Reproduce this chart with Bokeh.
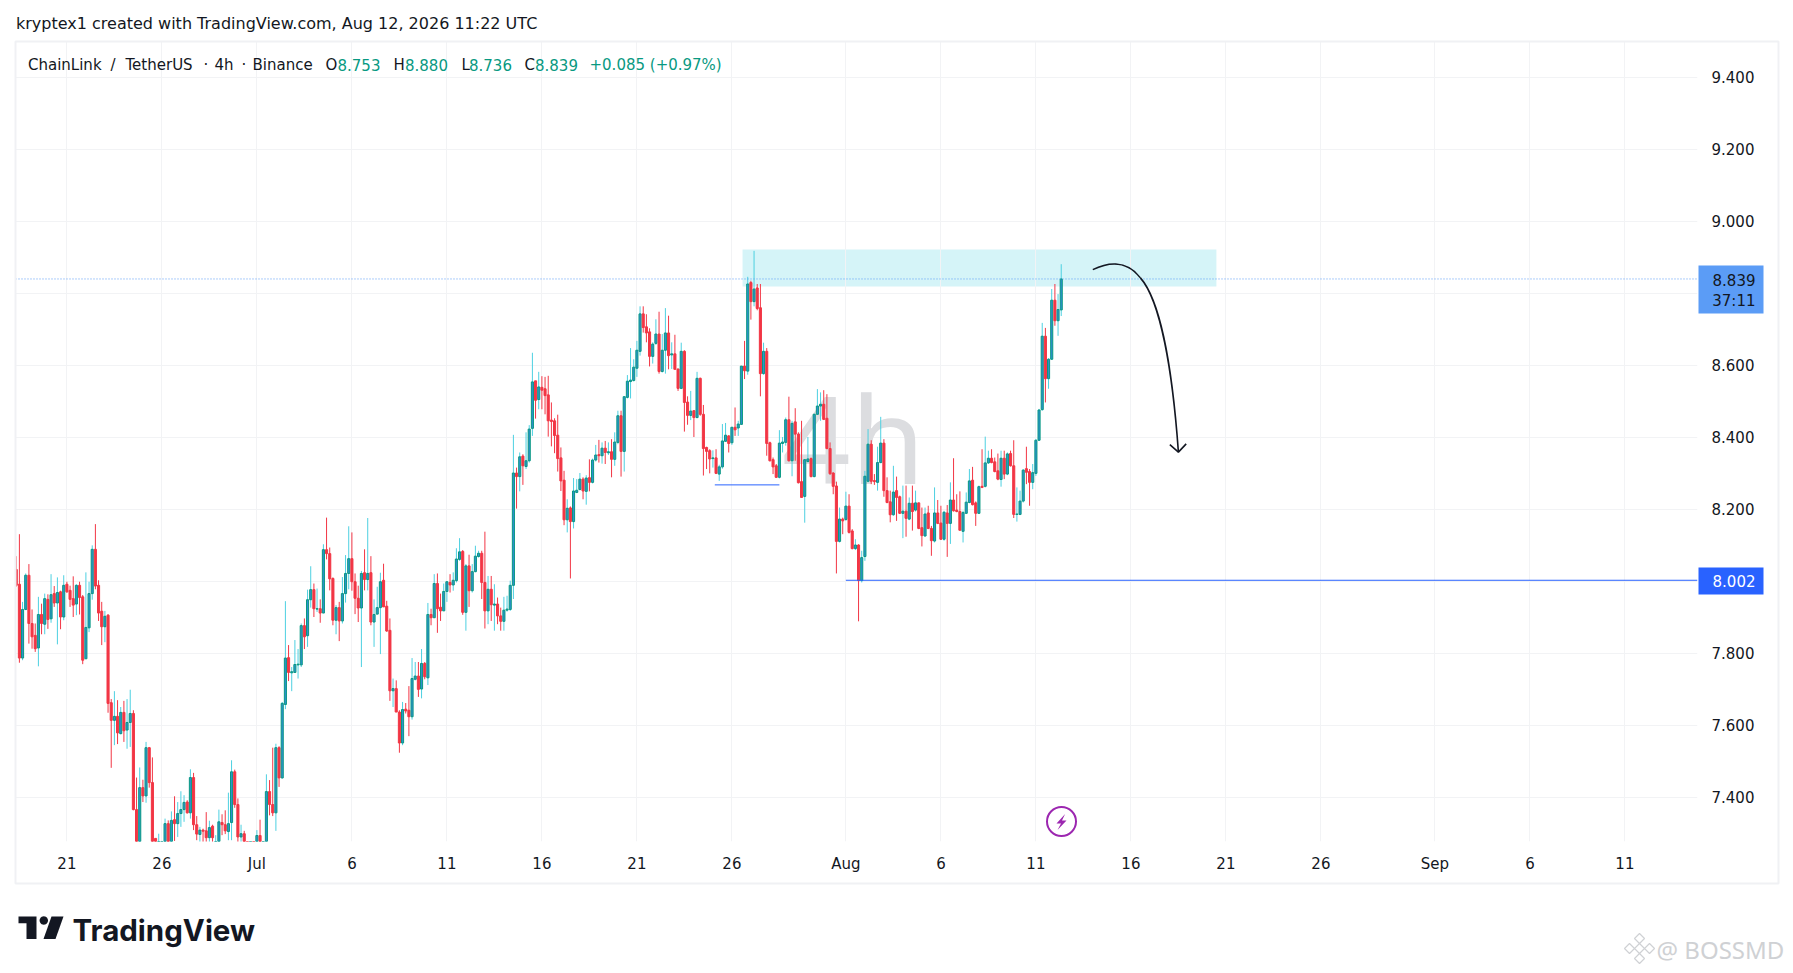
from math import cos, sin, pi
from bokeh.plotting import figure
from bokeh.layouts import column
from bokeh.models import (ColumnDataSource, FixedTicker, NumeralTickFormatter, Label, Range1d)
from bokeh.embed import file_html
from bokeh.resources import INLINE

FONT = "DejaVu Sans"

opens = [
8.032,7.991,7.786,7.921,8.016,7.882,7.849,7.814,7.907,7.880,
7.949,7.895,7.965,7.939,7.970,7.900,7.991,7.974,7.951,7.936,
7.988,7.956,7.784,7.870,7.965,8.088,7.988,7.916,7.873,7.905,
7.662,7.613,7.624,7.576,7.635,7.586,7.607,7.632,7.365,7.26,
7.426,7.403,7.537,7.440,7.285,7.24,7.22,7.24,7.326,7.24,
7.337,7.326,7.354,7.365,7.386,7.356,7.454,7.323,7.296,7.308,
7.306,7.287,7.319,7.24,7.26,7.329,7.323,7.304,7.329,7.470,
7.379,7.289,7.298,7.27,7.23,7.26,7.25,7.293,7.23,7.26,
7.415,7.379,7.356,7.537,7.453,7.657,7.787,7.745,7.746,7.767,
7.767,7.876,7.848,7.948,7.976,7.922,7.923,7.911,8.087,8.076,
8.007,7.891,7.926,7.889,7.965,8.021,8.062,7.998,7.952,7.925,
8.023,8.004,8.023,7.886,7.908,7.926,8.002,7.930,7.863,7.695,
7.701,7.636,7.550,7.644,7.641,7.623,7.727,7.736,7.700,7.771,
7.731,7.907,7.898,7.993,7.927,7.917,7.971,7.996,7.989,8.001,
8.060,8.082,7.913,8.042,7.973,8.026,8.068,8.077,7.996,7.917,
7.977,7.933,7.936,7.903,7.888,7.919,7.921,7.988,8.300,8.290,
8.347,8.318,8.334,8.424,8.556,8.504,8.538,8.534,8.517,8.447,
8.445,8.405,8.342,8.280,8.170,8.203,8.165,8.246,8.254,8.283,
8.249,8.287,8.274,8.336,8.351,8.348,8.369,8.356,8.359,8.338,
8.385,8.459,8.360,8.510,8.554,8.557,8.591,8.638,8.742,8.706,
8.692,8.624,8.660,8.686,8.582,8.641,8.689,8.628,8.631,8.589,
8.535,8.638,8.497,8.460,8.473,8.454,8.563,8.463,8.371,8.362,
8.340,8.342,8.297,8.317,8.388,8.403,8.384,8.427,8.425,8.435,
8.597,8.583,8.829,8.776,8.814,8.759,8.576,8.638,8.384,8.337,
8.320,8.288,8.382,8.385,8.448,8.334,8.442,8.408,8.276,8.235,
8.332,8.340,8.290,8.463,8.486,8.491,8.452,8.368,8.300,8.264,
8.110,8.172,8.171,8.208,8.139,8.090,8.100,8.001,8.068,8.277,
8.380,8.279,8.274,8.329,8.383,8.251,8.220,8.184,8.251,8.234,
8.188,8.194,8.172,8.216,8.197,8.217,8.148,8.125,8.189,8.146,
8.111,8.189,8.161,8.116,8.189,8.160,8.225,8.197,8.193,8.138,
8.188,8.218,8.280,8.217,8.188,8.263,8.263,8.328,8.341,8.331,
8.306,8.282,8.341,8.297,8.354,8.320,8.185,8.185,8.222,8.312,
8.304,8.274,8.299,8.391,8.476,8.680,8.562,8.616,8.780,8.723,
8.753]
highs = [
8.069,8.130,7.942,8.021,8.047,7.921,7.882,7.956,7.937,7.965,
7.963,8.019,7.986,8.010,7.973,8.016,7.998,7.987,8.013,7.991,
7.998,7.961,8.024,7.998,8.099,8.158,8.002,7.942,7.917,7.908,
7.672,7.694,7.669,7.650,7.667,7.672,7.698,7.641,7.454,7.482,
7.448,7.553,7.539,7.510,7.285,7.298,7.27,7.340,7.335,7.360,
7.402,7.386,7.416,7.405,7.391,7.477,7.467,7.347,7.317,7.312,
7.358,7.334,7.323,7.294,7.365,7.352,7.363,7.412,7.502,7.476,
7.396,7.323,7.306,7.272,7.272,7.27,7.308,7.337,7.27,7.463,
7.447,7.537,7.548,7.541,7.664,7.944,7.822,7.761,7.836,7.811,
7.882,7.896,7.976,8.041,7.993,7.979,7.949,8.102,8.176,8.093,
8.010,7.933,7.942,8.011,8.072,8.152,8.135,8.021,7.987,8.028,
8.088,8.175,8.069,7.949,7.984,8.023,8.048,7.945,7.896,7.729,
7.724,7.641,7.664,7.661,7.708,7.786,7.775,7.775,7.811,7.775,
7.939,7.923,8.019,8.021,7.965,7.993,7.998,8.019,8.024,8.091,
8.119,8.086,8.047,8.073,8.047,8.098,8.084,8.084,8.137,8.014,
8.014,7.991,7.954,7.926,7.956,7.959,8.001,8.406,8.315,8.357,
8.352,8.413,8.433,8.634,8.556,8.581,8.569,8.567,8.570,8.496,
8.452,8.462,8.371,8.306,8.227,8.207,8.286,8.283,8.300,8.288,
8.294,8.338,8.340,8.378,8.392,8.385,8.389,8.385,8.394,8.413,
8.473,8.473,8.512,8.572,8.647,8.616,8.667,8.763,8.763,8.741,
8.702,8.663,8.727,8.748,8.686,8.758,8.737,8.663,8.684,8.589,
8.662,8.641,8.513,8.528,8.475,8.581,8.565,8.489,8.373,8.366,
8.363,8.366,8.323,8.436,8.439,8.405,8.428,8.482,8.445,8.597,
8.667,8.845,8.834,8.917,8.825,8.825,8.662,8.647,8.387,8.343,
8.325,8.419,8.400,8.454,8.512,8.445,8.480,8.413,8.445,8.338,
8.400,8.343,8.465,8.533,8.524,8.530,8.519,8.385,8.302,8.276,
8.204,8.176,8.248,8.241,8.144,8.116,8.102,8.084,8.306,8.422,
8.391,8.297,8.373,8.456,8.394,8.288,8.251,8.320,8.290,8.237,
8.265,8.265,8.232,8.265,8.251,8.218,8.204,8.204,8.209,8.153,
8.260,8.225,8.209,8.195,8.211,8.274,8.341,8.241,8.249,8.195,
8.246,8.311,8.317,8.221,8.265,8.366,8.401,8.362,8.366,8.343,
8.354,8.362,8.362,8.357,8.362,8.391,8.260,8.251,8.311,8.373,
8.311,8.325,8.394,8.478,8.717,8.703,8.619,8.811,8.825,8.797,
8.880]
lows = [
7.984,7.773,7.780,7.919,7.826,7.812,7.803,7.763,7.852,7.852,
7.867,7.884,7.928,7.824,7.866,7.891,7.967,7.928,7.900,7.905,
7.907,7.769,7.783,7.858,7.948,7.977,7.889,7.822,7.830,7.634,
7.481,7.544,7.547,7.574,7.553,7.534,7.539,7.363,7.24,7.24,
7.386,7.384,7.426,7.23,7.22,7.22,7.20,7.22,7.22,7.22,
7.278,7.289,7.317,7.331,7.354,7.340,7.308,7.280,7.27,7.27,
7.27,7.27,7.27,7.22,7.24,7.294,7.297,7.280,7.280,7.370,
7.27,7.27,7.23,7.22,7.21,7.21,7.23,7.23,7.22,7.24,
7.349,7.347,7.306,7.428,7.451,7.644,7.722,7.694,7.745,7.729,
7.761,7.811,7.817,7.926,7.900,7.914,7.884,7.911,8.060,7.974,
7.877,7.852,7.833,7.882,7.940,7.977,7.973,7.908,7.886,7.761,
7.974,7.974,7.877,7.817,7.908,7.797,7.928,7.859,7.667,7.650,
7.636,7.523,7.544,7.632,7.569,7.615,7.724,7.678,7.674,7.727,
7.711,7.877,7.898,7.856,7.889,7.917,7.942,7.968,7.973,7.996,
8.056,7.906,7.862,7.928,7.968,8.024,8.065,7.950,7.868,7.880,
7.889,7.862,7.880,7.862,7.862,7.915,7.917,7.950,8.201,8.249,
8.267,8.311,8.329,8.403,8.451,8.477,8.477,8.463,8.401,8.374,
8.355,8.304,8.250,8.155,8.135,8.007,8.146,8.244,8.252,8.227,
8.212,8.249,8.271,8.332,8.329,8.326,8.325,8.350,8.288,8.320,
8.380,8.290,8.304,8.507,8.507,8.554,8.567,8.626,8.690,8.663,
8.596,8.604,8.656,8.576,8.579,8.576,8.588,8.589,8.588,8.528,
8.533,8.415,8.434,8.447,8.400,8.452,8.459,8.293,8.311,8.299,
8.315,8.297,8.278,8.312,8.387,8.357,8.378,8.403,8.403,8.435,
8.561,8.573,8.726,8.763,8.752,8.513,8.573,8.348,8.332,8.297,
8.286,8.285,8.357,8.376,8.332,8.291,8.334,8.271,8.232,8.162,
8.329,8.288,8.288,8.462,8.445,8.447,8.366,8.295,8.241,8.021,
8.107,8.130,8.167,8.132,8.088,8.086,7.888,7.996,8.056,8.274,
8.269,8.267,8.251,8.327,8.234,8.216,8.163,8.181,8.167,8.186,
8.119,8.123,8.169,8.140,8.193,8.144,8.096,8.123,8.144,8.070,
8.107,8.158,8.114,8.112,8.067,8.103,8.193,8.191,8.140,8.107,
8.186,8.216,8.210,8.153,8.186,8.258,8.260,8.325,8.327,8.302,
8.280,8.262,8.283,8.294,8.318,8.175,8.165,8.183,8.218,8.269,
8.209,8.255,8.292,8.389,8.473,8.496,8.534,8.614,8.709,8.681,
8.736]
closes = [
7.988,7.786,7.921,8.016,7.882,7.845,7.812,7.907,7.882,7.951,
7.893,7.962,7.939,7.968,7.900,7.988,7.970,7.949,7.933,7.988,
7.954,7.780,7.871,7.965,8.088,7.986,7.911,7.873,7.902,7.660,
7.613,7.624,7.578,7.635,7.584,7.607,7.632,7.365,7.26,7.426,
7.403,7.537,7.440,7.25,7.24,7.27,7.25,7.326,7.24,7.335,
7.326,7.354,7.365,7.385,7.356,7.454,7.323,7.297,7.308,7.305,
7.287,7.315,7.287,7.26,7.331,7.323,7.306,7.326,7.470,7.379,
7.289,7.298,7.25,7.24,7.26,7.23,7.293,7.25,7.25,7.415,
7.379,7.356,7.537,7.453,7.660,7.786,7.746,7.748,7.768,7.769,
7.876,7.845,7.948,7.976,7.923,7.923,7.911,8.087,8.076,8.006,
7.891,7.926,7.889,7.965,8.021,8.062,7.998,7.952,7.925,8.021,
8.004,8.021,7.886,7.907,7.926,7.998,7.928,7.861,7.695,7.701,
7.636,7.550,7.643,7.639,7.623,7.729,7.736,7.699,7.771,7.734,
7.907,7.898,7.993,7.923,7.917,7.971,7.998,7.989,8.002,8.061,
8.081,7.913,8.042,7.973,8.026,8.069,8.077,7.996,7.917,7.977,
7.934,7.936,7.903,7.888,7.919,7.922,7.988,8.300,8.290,8.345,
8.320,8.334,8.422,8.553,8.502,8.539,8.530,8.515,8.445,8.443,
8.404,8.340,8.278,8.170,8.202,8.165,8.250,8.252,8.283,8.250,
8.286,8.274,8.336,8.350,8.348,8.369,8.357,8.359,8.338,8.386,
8.459,8.360,8.512,8.555,8.558,8.594,8.641,8.742,8.704,8.689,
8.624,8.658,8.686,8.582,8.641,8.689,8.626,8.631,8.588,8.535,
8.638,8.496,8.460,8.472,8.454,8.563,8.463,8.368,8.360,8.339,
8.342,8.299,8.317,8.389,8.405,8.382,8.427,8.420,8.436,8.597,
8.584,8.825,8.776,8.811,8.757,8.576,8.638,8.382,8.334,8.317,
8.288,8.383,8.386,8.448,8.334,8.438,8.408,8.273,8.232,8.337,
8.339,8.290,8.463,8.486,8.491,8.449,8.368,8.298,8.263,8.110,
8.172,8.167,8.208,8.135,8.090,8.100,8.001,8.065,8.291,8.380,
8.277,8.276,8.329,8.383,8.251,8.218,8.184,8.247,8.232,8.188,
8.194,8.174,8.216,8.193,8.217,8.146,8.126,8.186,8.146,8.112,
8.189,8.160,8.116,8.191,8.160,8.225,8.195,8.193,8.141,8.190,
8.219,8.278,8.212,8.188,8.262,8.260,8.328,8.341,8.329,8.304,
8.283,8.341,8.297,8.353,8.320,8.185,8.186,8.222,8.308,8.302,
8.274,8.301,8.391,8.475,8.680,8.562,8.616,8.780,8.723,8.754,
8.839]

first_candle_day = -2.667      # days after 21 Jun
candles_per_day = 6

date_ticks  = [0, 5, 10, 15, 20, 25, 30, 35, 41, 46, 51, 56, 61, 66, 72, 77, 82]
date_labels = ["21", "26", "Jul", "6", "11", "16", "21", "26", "Aug", "6", "11", "16", "21", "26", "Sep", "6", "11"]
price_labels = [7.4, 7.6, 7.8, 8.2, 8.4, 8.6, 9.0, 9.2, 9.4]
price_grid = [7.4, 7.6, 7.8, 8.0, 8.2, 8.4, 8.6, 8.8, 9.0, 9.2, 9.4]

last_price = 8.839
level_price = 8.002
level_start_day = 41.0
support_price = 8.267
support_days = [34.1, 37.5]
zone_days = [35.56, 60.5]
zone_prices = [8.818, 8.921]

UP_BODY, UP_LINE, UP_WICK, DN = "#2f8fd0", "#089981", "#4dd0e1", "#f23645"
GRID = "#f2f3f5"

n = len(opens)
assert n == len(highs) == len(lows) == len(closes), (n, len(highs), len(lows), len(closes))
days = [first_candle_day + i / candles_per_day for i in range(n)]
is_up = [c >= o for o, c in zip(opens, closes)]
src = ColumnDataSource(dict(
    x=days, o=opens, h=highs, l=lows, c=closes,
    top=[max(a, b) for a, b in zip(opens, closes)],
    bot=[min(a, b) for a, b in zip(opens, closes)],
    fill=[UP_BODY if u else DN for u in is_up],
    line=[UP_LINE if u else DN for u in is_up],
    wick=[UP_WICK if u else DN for u in is_up],
))

PX_ORIGIN, PX_PER_DAY = 66.4, 19.0
PY_ORIGIN, PX_PER_UNIT = 580.5, 360.0
X = lambda px: (px - PX_ORIGIN) / PX_PER_DAY
Y = lambda py: 8.0 + (PY_ORIGIN - py) / PX_PER_UNIT

p = figure(width=1793, height=973, output_backend="svg", toolbar_location=None,
           x_range=Range1d(X(15), X(1697)), y_range=Range1d(Y(841), Y(41)),
           x_axis_location="below", y_axis_location="right",
           min_border_left=15, min_border_right=96, min_border_top=41, min_border_bottom=132,
           background_fill_color="white", border_fill_color="white", outline_line_color=None,
           frame_align=False)

p.xaxis.ticker = FixedTicker(ticks=date_ticks)
p.xaxis.major_label_overrides = dict(zip(date_ticks, date_labels))
p.yaxis.ticker = FixedTicker(ticks=price_labels)
p.yaxis.formatter = NumeralTickFormatter(format="0.000")
for ax in (p.xaxis[0], p.yaxis[0]):
    ax.axis_line_color = None
    ax.major_tick_line_color = None
    ax.minor_tick_line_color = None
    ax.major_label_text_font = FONT
    ax.major_label_text_font_size = "15px"
    ax.major_label_text_color = "#131722"
p.xaxis.major_label_standoff = 7
p.yaxis.major_label_standoff = 8
p.xgrid.ticker = FixedTicker(ticks=date_ticks)
p.ygrid.ticker = FixedTicker(ticks=price_grid)
p.xgrid.grid_line_color = GRID
p.ygrid.grid_line_color = GRID

p.add_layout(Label(x=853, y=437, x_units="canvas", y_units="canvas", text="4h", text_align="center", text_baseline="middle",
                   text_font="Noto Sans", text_font_size="120px", text_color="#dcdde0", level="underlay"))

p.quad(left=[zone_days[0]], right=[zone_days[1]], bottom=[zone_prices[0]], top=[zone_prices[1]],
       fill_color="#d5f4f8", line_color=None, level="underlay")

p.segment("x", "h", "x", "l", source=src, line_color="wick", line_width=1)
p.vbar(x="x", top="top", bottom="bot", width=0.11, source=src,
       fill_color="fill", line_color="line", line_width=1)

p.line([X(15), X(1697)], [last_price, last_price], line_color="#5b9cf6", line_width=1, line_dash="1 2")
p.line([level_start_day, X(1697)], [level_price, level_price], line_color="#2962ff", line_width=1)
p.line(support_days, [support_price, support_price], line_color="#2962ff", line_width=1)

BLK = "#131722"
p.bezier(x0=[53.995, 56.50], y0=[8.865, 8.842], x1=[56.50, 58.50], y1=[8.842, 8.358],
         cx0=[54.66, 57.56], cy0=[8.882, 8.779], cx1=[55.72, 58.19], cy1=[8.896, 8.585],
         line_color=BLK, line_width=1.6)
p.line([58.05, 58.50, 58.91], [8.379, 8.358, 8.381], line_color=BLK, line_width=1.6)

p.scatter([X(1061)], [Y(821)], size=29, marker="circle", fill_color="white", line_color="#9c27b0", line_width=2)

# transparent full-page layer for everything around the plot frame
ov = figure(width=1793, height=973, output_backend="svg", toolbar_location=None,
            x_range=Range1d(0, 1793), y_range=Range1d(973, 0),
            x_axis_location=None, y_axis_location=None,
            min_border_left=0, min_border_right=0, min_border_top=0, min_border_bottom=0,
            background_fill_alpha=0, border_fill_alpha=0, outline_line_color=None,
            margin=(-973, 0, 0, 0), frame_align=False)
ov.grid.visible = False

def poly(pts, fill=None, line=None, lw=1):
    ov.patch([q[0] for q in pts], [q[1] for q in pts],
             fill_color=fill or "white", fill_alpha=1 if fill else 0,
             line_color=line or "white", line_width=lw, line_alpha=1 if line else 0)

poly([(1064.6, 813.5), (1056, 823), (1060.5, 823), (1057, 829.5), (1066, 820), (1061.5, 820)], fill="#9c27b0")

def label(px, py, text, color="#131722", size="15px", align="left", style="normal", font=FONT, base="middle"):
    ov.add_layout(Label(x=px, y=py, text=text, text_color=color, text_font_size=size,
                        text_align=align, text_baseline=base, text_font_style=style, text_font=font))

poly([(15, 41), (1778, 41), (1778, 883), (15, 883)], line="#f0f1f4", lw=2)

poly([(1698, 265), (1763, 265), (1763, 313), (1698, 313)], fill="#5b9cf6")
poly([(1698, 567), (1763, 567), (1763, 594), (1698, 594)], fill="#2962ff")
label(1755, 279, "8.839", align="right")
label(1755, 300, "37:11", align="right")
label(1755, 580.5, "8.002", color="white", align="right")

G = "#089981"
label(15.5, 23, "kryptex1 created with TradingView.com, Aug 12, 2026 11:22 UTC", size="16px")
for px, txt in [(27.5, "ChainLink"), (110, "/"), (125, "TetherUS"), (203, "\u00b7"), (214, "4h"), (241, "\u00b7"), (252, "Binance")]:
    label(px, 64, txt)
for px, txt, col in [(325, "O", "#131722"), (337, "8.753", G), (393, "H", "#131722"), (404.5, "8.880", G),
                     (461, "L", "#131722"), (468.5, "8.736", G), (524, "C", "#131722"), (534.5, "8.839", G),
                     (589, "+0.085 (+0.97%)", G)]:
    label(px, 64, txt, color=col)

INK = "#131722"
poly([(18, 916), (36, 916), (36, 938.5), (26, 938.5), (26, 922.7), (18, 922.7)], fill=INK)
poly([(51, 916), (63, 916), (55, 938.5), (43, 938.5)], fill=INK)
poly([(43.3 + 4.2 * cos(a * pi / 12), 920 + 4.2 * sin(a * pi / 12)) for a in range(24)], fill=INK)
label(72, 929, "TradingView", size="29.5px", style="bold", font="Inter", color=INK)

WM = "#cfd1d4"
for cx, cy, r in [(1639, 948, 5), (1639, 938, 5), (1639, 958, 5), (1629, 948, 5), (1649, 948, 5)]:
    poly([(cx, cy - r), (cx + r, cy), (cx, cy + r), (cx - r, cy)], line=WM, lw=1.2)
label(1656, 949, "@ BOSSMD", color=WM, size="24px", font="Noto Sans")

open("out.html", "w").write(file_html(column(p, ov, spacing=0), INLINE))
